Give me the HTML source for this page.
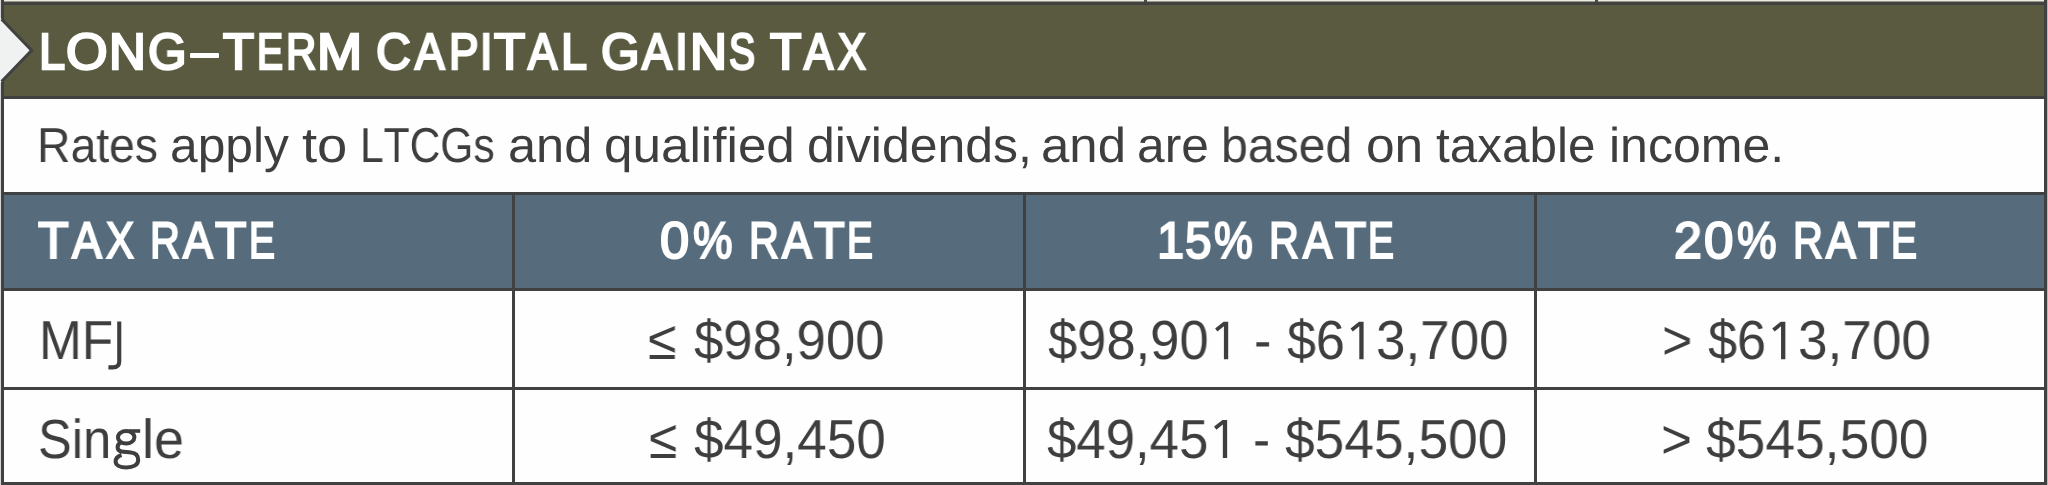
<!DOCTYPE html>
<html>
<head>
<meta charset="utf-8">
<style>
html,body{margin:0;padding:0;}
body{width:2048px;height:485px;overflow:hidden;position:relative;background:#fefefe;font-family:"Liberation Sans",sans-serif;}
.a{position:absolute;}
.ln{position:absolute;background:#414141;}
.t{position:absolute;white-space:nowrap;line-height:1;transform-origin:0 0;font-kerning:none;font-feature-settings:"kern" 0;text-rendering:geometricPrecision;will-change:transform;}
.title{color:#fff;font-size:51px;-webkit-text-stroke:2.5px #fff;}
.desc{color:#3e3e3e;font-size:49px;}
.hd{color:#fff;font-size:51.5px;-webkit-text-stroke:2.1px #fff;}
.dt{color:#3e3e3e;font-size:55px;}
</style>
</head>
<body>
<div class="a" style="left:0;top:0;width:2048px;height:1px;background:#e9eae5;"></div>
<div class="a" style="left:0;top:1px;width:2048px;height:1px;background:#9a9a82;"></div>
<div class="a" style="left:0;top:0;width:1px;height:485px;background:#d6d6d6;"></div>
<div class="a" style="left:2047px;top:0;width:1px;height:485px;background:#b8b8b8;"></div>
<div class="a" style="left:3px;top:4px;width:2042px;height:93px;background:#5a5a40;"></div>
<div class="a" style="left:3px;top:193px;width:2042px;height:96px;background:#566b7b;"></div>
<div class="ln" style="left:1px;top:2px;width:2046px;height:3px;"></div>
<div class="ln" style="left:1px;top:96px;width:2046px;height:3px;"></div>
<div class="ln" style="left:1px;top:192px;width:2046px;height:3px;"></div>
<div class="ln" style="left:1px;top:288px;width:2046px;height:3px;"></div>
<div class="ln" style="left:1px;top:387px;width:2046px;height:3px;"></div>
<div class="ln" style="left:1px;top:482px;width:2046px;height:3px;"></div>
<div class="ln" style="left:1px;top:0;width:3px;height:485px;"></div>
<div class="ln" style="left:2044px;top:0;width:3px;height:485px;"></div>
<div class="ln" style="left:512px;top:192px;width:3px;height:293px;"></div>
<div class="ln" style="left:1023px;top:192px;width:3px;height:293px;"></div>
<div class="ln" style="left:1534px;top:192px;width:3px;height:293px;"></div>
<svg class="a" style="left:0;top:0" width="60" height="100" viewBox="0 0 60 100">
  <path d="M0 17.6 L31.7 50.4 L0 83.2 Z" fill="#f0f2f1"/>
  <path d="M1.6 19.3 L31.7 50.4 L1.6 81.5" fill="none" stroke="#414141" stroke-width="3" stroke-linejoin="miter" stroke-miterlimit="10"/>
</svg>
<div class="a" style="left:190.4px;top:52.5px;width:29px;height:5.3px;background:#fff;border-radius:1px;"></div>
<svg class="a" style="left:100px;top:315px" width="30" height="60" viewBox="100 315 30 60">
  <path d="M119.25 321.4 V361.5 Q119.25 367.4 112.8 367.4 H108.4" fill="none" stroke="#3e3e3e" stroke-width="4.1"/>
</svg>
<div class="a" style="left:1144px;top:0;width:2.5px;height:1.5px;background:#4a4a4a;"></div>
<div class="a" style="left:1595px;top:0;width:2.5px;height:1.5px;background:#4a4a4a;"></div>
<svg class="a" style="left:0;top:0" width="2048" height="485" viewBox="0 0 2048 485"><path fill="#3e3e3e" d="M1228.20 321.70 L1228.20 359.30 L1223.90 359.30 L1223.90 326.30 L1217.40 331.50 L1215.10 328.40 L1223.60 321.70 Z M1363.60 321.70 L1363.60 359.30 L1359.30 359.30 L1359.30 326.30 L1352.80 331.50 L1350.50 328.40 L1359.00 321.70 Z M1785.35 321.70 L1785.35 359.30 L1781.05 359.30 L1781.05 326.30 L1774.55 331.50 L1772.25 328.40 L1780.75 321.70 Z M1227.15 419.90 L1227.15 458.00 L1222.85 458.00 L1222.85 424.50 L1216.35 429.70 L1214.05 426.60 L1222.55 419.90 Z"/></svg>
<svg class="a" style="left:100px;top:420px" width="50" height="55" viewBox="100 420 50 55" fill="none" stroke="#3e3e3e" stroke-width="4">
  <ellipse cx="126.2" cy="437.3" rx="8.2" ry="6.3"/>
  <path d="M129 431 H140.2" stroke-width="3.6"/>
  <path d="M120.5 442.5 C116.5 445 116.5 450.5 121.5 451.5 C124 452 128 452 131 452.5 C136 453 138.2 456 138.2 460 C138.2 465 133 467.4 126.5 467.4 C119.5 467.4 115.6 465 115.6 461.5 C115.6 458 118.5 456 121.5 455"/>
</svg>
<div class="t title" style="left:38.96px;top:25.76px;transform:scaleX(0.9202)">L</div>
<div class="t title" style="left:65.85px;top:25.76px;transform:scaleX(1.0495)">O</div>
<div class="t title" style="left:108.75px;top:25.76px;transform:scaleX(0.9936)">N</div>
<div class="t title" style="left:148.25px;top:25.76px;transform:scaleX(0.9712)">G</div>
<div class="t title" style="left:223.06px;top:25.76px;transform:scaleX(0.9945)">T</div>
<div class="t title" style="left:256.68px;top:25.76px;transform:scaleX(0.7677)">E</div>
<div class="t title" style="left:285.70px;top:25.76px;transform:scaleX(0.8194)">R</div>
<div class="t title" style="left:316.82px;top:25.76px;transform:scaleX(1.0638)">M</div>
<div class="t title" style="left:376.23px;top:25.76px;transform:scaleX(0.9425)">C</div>
<div class="t title" style="left:414.89px;top:25.76px;transform:scaleX(0.8674)">A</div>
<div class="t title" style="left:448.78px;top:25.76px;transform:scaleX(0.8659)">P</div>
<div class="t title" style="left:479.56px;top:25.76px;transform:scaleX(0.8698)">I</div>
<div class="t title" style="left:494.01px;top:25.76px;transform:scaleX(1.0009)">T</div>
<div class="t title" style="left:527.74px;top:25.76px;transform:scaleX(0.8588)">A</div>
<div class="t title" style="left:560.82px;top:25.76px;transform:scaleX(0.9159)">L</div>
<div class="t title" style="left:600.53px;top:25.76px;transform:scaleX(0.9712)">G</div>
<div class="t title" style="left:641.57px;top:25.76px;transform:scaleX(0.8782)">A</div>
<div class="t title" style="left:674.85px;top:25.76px;transform:scaleX(0.9037)">I</div>
<div class="t title" style="left:690.19px;top:25.76px;transform:scaleX(1.0044)">N</div>
<div class="t title" style="left:729.11px;top:25.76px;transform:scaleX(0.7680)">S</div>
<div class="t title" style="left:770.20px;top:25.76px;transform:scaleX(1.0075)">T</div>
<div class="t title" style="left:804.39px;top:25.76px;transform:scaleX(0.8583)">A</div>
<div class="t title" style="left:837.80px;top:25.76px;transform:scaleX(0.8136)">X</div>
<div class="t hd" style="left:37.90px;top:215.26px;transform:scaleX(0.9764)">T</div>
<div class="t hd" style="left:71.68px;top:215.26px;transform:scaleX(0.8679)">A</div>
<div class="t hd" style="left:105.65px;top:215.26px;transform:scaleX(0.8124)">X</div>
<div class="t hd" style="left:150.01px;top:215.26px;transform:scaleX(0.8058)">R</div>
<div class="t hd" style="left:183.33px;top:215.26px;transform:scaleX(0.8679)">A</div>
<div class="t hd" style="left:215.10px;top:215.26px;transform:scaleX(0.9991)">T</div>
<div class="t hd" style="left:248.53px;top:215.26px;transform:scaleX(0.7526)">E</div>
<div class="t hd" style="left:660.26px;top:215.26px;transform:scaleX(1.0184)">0</div>
<div class="t hd" style="left:692.65px;top:215.26px;transform:scaleX(0.8620)">%</div>
<div class="t hd" style="left:748.52px;top:215.26px;transform:scaleX(0.8058)">R</div>
<div class="t hd" style="left:781.87px;top:215.26px;transform:scaleX(0.8679)">A</div>
<div class="t hd" style="left:813.90px;top:215.26px;transform:scaleX(0.9764)">T</div>
<div class="t hd" style="left:847.19px;top:215.26px;transform:scaleX(0.7526)">E</div>
<div class="t hd" style="left:1156.54px;top:215.26px;transform:scaleX(0.9462)">1</div>
<div class="t hd" style="left:1184.53px;top:215.26px;transform:scaleX(0.9266)">5</div>
<div class="t hd" style="left:1214.30px;top:215.26px;transform:scaleX(0.8486)">%</div>
<div class="t hd" style="left:1269.41px;top:215.26px;transform:scaleX(0.8058)">R</div>
<div class="t hd" style="left:1303.07px;top:215.26px;transform:scaleX(0.8515)">A</div>
<div class="t hd" style="left:1334.90px;top:215.26px;transform:scaleX(0.9909)">T</div>
<div class="t hd" style="left:1368.45px;top:215.26px;transform:scaleX(0.7526)">E</div>
<div class="t hd" style="left:1673.92px;top:215.26px;transform:scaleX(0.9735)">2</div>
<div class="t hd" style="left:1704.03px;top:215.26px;transform:scaleX(1.0285)">0</div>
<div class="t hd" style="left:1737.09px;top:215.26px;transform:scaleX(0.8620)">%</div>
<div class="t hd" style="left:1792.59px;top:215.26px;transform:scaleX(0.8058)">R</div>
<div class="t hd" style="left:1825.96px;top:215.26px;transform:scaleX(0.8679)">A</div>
<div class="t hd" style="left:1857.79px;top:215.26px;transform:scaleX(0.9991)">T</div>
<div class="t hd" style="left:1891.29px;top:215.26px;transform:scaleX(0.7526)">E</div>
<div class="t desc" style="left:37.47px;top:122.00px;transform:scaleX(0.9452)">Rates</div>
<div class="t desc" style="left:170.13px;top:122.00px;transform:scaleX(1.0145)">apply</div>
<div class="t desc" style="left:301.78px;top:122.00px;transform:scaleX(1.1108)">to</div>
<div class="t desc" style="left:360.21px;top:122.00px;transform:scaleX(0.8676)">LTCGs</div>
<div class="t desc" style="left:507.53px;top:122.00px;transform:scaleX(1.0317)">and</div>
<div class="t desc" style="left:603.90px;top:122.00px;transform:scaleX(1.0457)">qualified</div>
<div class="t desc" style="left:806.54px;top:122.00px;transform:scaleX(1.0196)">dividends,</div>
<div class="t desc" style="left:1040.53px;top:122.00px;transform:scaleX(1.0394)">and</div>
<div class="t desc" style="left:1137.31px;top:122.00px;transform:scaleX(1.0148)">are</div>
<div class="t desc" style="left:1221.46px;top:122.00px;transform:scaleX(0.9831)">based</div>
<div class="t desc" style="left:1365.88px;top:122.00px;transform:scaleX(1.0504)">on</div>
<div class="t desc" style="left:1435.94px;top:122.00px;transform:scaleX(1.0092)">taxable</div>
<div class="t desc" style="left:1608.60px;top:122.00px;transform:scaleX(1.0213)">income.</div>
<div class="t dt" style="left:38.65px;top:312.91px;transform:scaleX(0.9349)">MF</div>
<div class="t dt" style="left:648.03px;top:313.41px;transform:scaleX(0.9425)">≤</div>
<div class="t dt" style="left:694.20px;top:313.41px;transform:scaleX(0.9580)">$98,900</div>
<div class="t dt" style="left:1047.55px;top:313.41px;transform:scaleX(0.9542)">$98,90</div>
<div class="t dt" style="left:1254.31px;top:313.41px;transform:scaleX(0.9501)">-</div>
<div class="t dt" style="left:1287.12px;top:313.41px;transform:scaleX(0.9461)">$6</div>
<div class="t dt" style="left:1375.51px;top:313.41px;transform:scaleX(0.9639)">3,700</div>
<div class="t dt" style="left:1661.82px;top:313.41px;transform:scaleX(0.9442)">&gt;</div>
<div class="t dt" style="left:1708.09px;top:313.41px;transform:scaleX(0.9506)">$6</div>
<div class="t dt" style="left:1797.50px;top:313.41px;transform:scaleX(0.9663)">3,700</div>
<div class="t dt" style="left:38.01px;top:412.11px;transform:scaleX(0.9191)">Sin</div>
<div class="t dt" style="left:142.09px;top:412.11px;transform:scaleX(0.9813)">le</div>
<div class="t dt" style="left:648.70px;top:412.11px;transform:scaleX(0.9363)">≤</div>
<div class="t dt" style="left:694.28px;top:412.11px;transform:scaleX(0.9645)">$49,450</div>
<div class="t dt" style="left:1046.57px;top:412.11px;transform:scaleX(0.9587)">$49,45</div>
<div class="t dt" style="left:1252.72px;top:412.11px;transform:scaleX(0.9309)">-</div>
<div class="t dt" style="left:1285.03px;top:412.11px;transform:scaleX(0.9692)">$545,500</div>
<div class="t dt" style="left:1660.85px;top:412.11px;transform:scaleX(0.9639)">&gt;</div>
<div class="t dt" style="left:1706.44px;top:412.11px;transform:scaleX(0.9701)">$545,500</div>
</body>
</html>
